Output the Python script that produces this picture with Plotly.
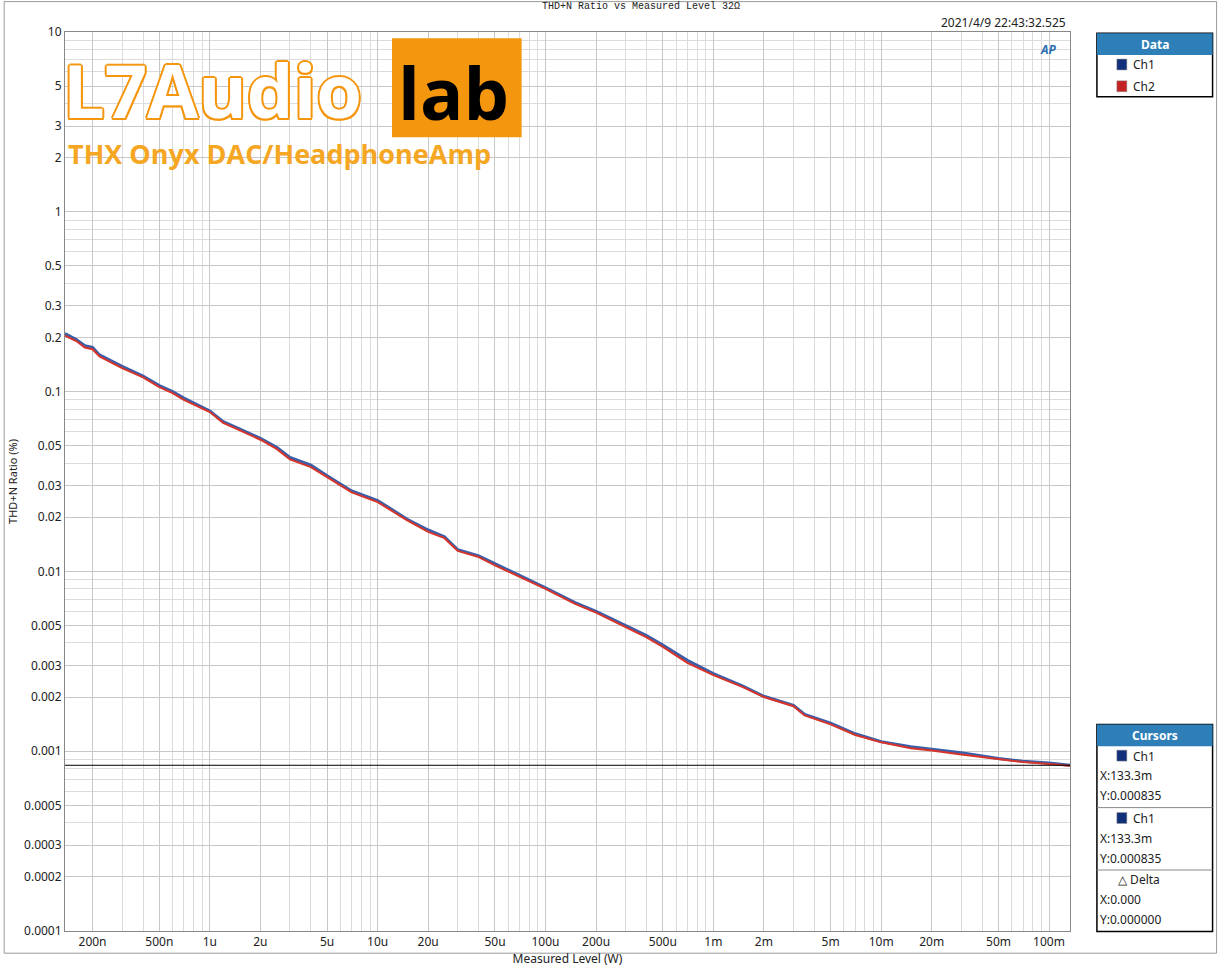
import plotly.graph_objects as go

level_w = [137e-9,160e-9,180e-9,200e-9,220e-9,300e-9,400e-9,500e-9,600e-9,700e-9,1e-6,1.2e-6,1.5e-6,2e-6,2.5e-6,3e-6,4e-6,5e-6,7e-6,10e-6,15e-6,20e-6,25e-6,30e-6,40e-6,50e-6,70e-6,100e-6,150e-6,200e-6,300e-6,400e-6,500e-6,700e-6,1e-3,1.5e-3,2e-3,3e-3,3.5e-3,5e-3,7e-3,10e-3,15e-3,20e-3,30e-3,50e-3,70e-3,100e-3,133.3e-3]
ch1 = [0.210,0.195,0.180,0.176,0.160,0.138,0.122,0.108,0.100,0.092,0.078,0.068,0.062,0.055,0.049,0.043,0.039,0.034,0.028,0.0248,0.0195,0.0170,0.0156,0.0132,0.0122,0.0110,0.0095,0.0081,0.0067,0.0060,0.0050,0.0044,0.0039,0.0032,0.0027,0.0023,0.00202,0.00180,0.00160,0.00143,0.00125,0.00113,0.00106,0.00103,0.00098,0.00091,0.00088,0.00086,0.000835]
ch2 = [0.205,0.191,0.176,0.172,0.157,0.135,0.120,0.106,0.098,0.090,0.077,0.067,0.061,0.054,0.048,0.042,0.038,0.0335,0.0275,0.0243,0.0192,0.0166,0.0153,0.0130,0.0120,0.0108,0.0093,0.0080,0.0066,0.0059,0.0049,0.0043,0.0038,0.0031,0.00265,0.00227,0.00200,0.00178,0.00158,0.00141,0.00123,0.00112,0.00104,0.00101,0.00096,0.00090,0.00087,0.00085,0.000830]
cursor_y = 0.000835
xtick_vals = [200e-9,500e-9,1e-6,2e-6,5e-6,10e-6,20e-6,50e-6,100e-6,200e-6,500e-6,1e-3,2e-3,5e-3,10e-3,20e-3,50e-3,100e-3]
xtick_text = ["200n","500n","1u","2u","5u","10u","20u","50u","100u","200u","500u","1m","2m","5m","10m","20m","50m","100m"]
ytick_vals = [10,5,3,2,1,0.5,0.3,0.2,0.1,0.05,0.03,0.02,0.01,0.005,0.003,0.002,0.001,0.0005,0.0003,0.0002,0.0001]
ytick_text = ["10","5","3","2","1","0.5","0.3","0.2","0.1","0.05","0.03","0.02","0.01","0.005","0.003","0.002","0.001","0.0005","0.0003","0.0002","0.0001"]

L, R, T, B, W, H = 62, 1070, 32, 949, 1218, 973
def px(x): return (x - L) / (R - L)
def py(y): return (B - y) / (B - T)
def ry(y): return y * 1.01  # compensate rendered vertical scale

fig = go.Figure()
fig.add_trace(go.Scatter(x=level_w, y=ch1, mode="lines", line=dict(color="#3a5ea8", width=3), name="Ch1"))
fig.add_trace(go.Scatter(x=level_w, y=ch2, mode="lines", line=dict(color="#d8352a", width=2), name="Ch2"))

grid = "#dcdcdc"
fig.update_xaxes(type="log", range=[-6.863, -0.875], tickvals=xtick_vals, ticktext=xtick_text,
                 showgrid=True, gridcolor="#c8c8c8", minor=dict(dtick="D1", showgrid=True, gridcolor=grid),
                 showline=True, linecolor="#888", mirror=True, ticks="", zeroline=False,
                 title=dict(text="Measured Level (W)", standoff=2, font=dict(size=12)), tickfont=dict(size=12))
fig.update_yaxes(type="log", range=[-4, 1], tickvals=ytick_vals, ticktext=ytick_text,
                 showgrid=True, gridcolor="#c8c8c8", minor=dict(dtick="D1", showgrid=True, gridcolor=grid),
                 showline=True, linecolor="#888", mirror=True, ticks="", zeroline=False,
                 title=dict(text="THD+N Ratio (%)", standoff=4, font=dict(size=11)), tickfont=dict(size=12))

shapes = [dict(type="line", xref="paper", x0=0, x1=1, yref="y", y0=cursor_y, y1=cursor_y, line=dict(color="black", width=1))]
ann = []
def box(x0, y0, x1, y1, **kw):
    shapes.append(dict(type="rect", xref="paper", yref="paper", x0=px(x0), x1=px(x1), y0=py(ry(y0)), y1=py(ry(y1)), **kw))
def text(x, y, s, size=12, color="#222", xanchor="left", **kw):
    ann.append(dict(xref="paper", yref="paper", x=px(x), y=py(ry(y)), text=s, showarrow=False,
                    xanchor=xanchor, yanchor="middle", font=dict(size=size, color=color, **kw)))

box(1, 1, W - 1, 962, line=dict(color="#999", width=1))
box(1097, 33, 1213, 97, line=dict(color="black", width=1.5), fillcolor="white")
box(1097, 33, 1213, 55, line=dict(width=0), fillcolor="#2e7fb8")
text(1155, 44, "<b>Data</b>", color="white", xanchor="center")
box(1117, 59, 1127, 70, line=dict(color="#888", width=0.5), fillcolor="#12307a")
text(1131, 65, "Ch1")
box(1117, 81, 1127, 92, line=dict(color="#888", width=0.5), fillcolor="#c42222")
text(1131, 87, "Ch2")
box(1097, 731, 1213, 940, line=dict(color="black", width=1.5), fillcolor="white")
box(1097, 731, 1213, 753, line=dict(width=0), fillcolor="#2e7fb8")
text(1155, 742, "<b>Cursors</b>", color="white", xanchor="center")
for base in (757, 820):
    box(1117, base, 1127, base + 11, line=dict(color="#888", width=0.5), fillcolor="#12307a")
    text(1131, base + 6, "Ch1")
    text(1098, base + 26, "X:133.3m")
    text(1098, base + 46, "Y:0.000835")
for yy in (815, 878):
    shapes.append(dict(type="line", xref="paper", yref="paper", x0=px(1097), x1=px(1213), y0=py(ry(yy)), y1=py(ry(yy)), line=dict(color="#888", width=1)))
text(1116, 888, "△ Delta")
text(1098, 908, "X:0.000")
text(1098, 928, "Y:0.000000")

text(640, 6, "THD+N Ratio vs Measured Level 32Ω", size=10, color="#222", xanchor="center", family="Liberation Mono")
text(1068, 22, "2021/4/9 22:43:32.525", size=12, xanchor="right")
text(1048, 49, "<i><b>AP</b></i>", size=12, color="#2e6fb0", xanchor="center")

box(390, 38, 520, 138, line=dict(width=0), fillcolor="#f5960f")
text(452, 92, "<b>lab</b>", size=72, color="black", xanchor="center", family="Open Sans")
sh = ",".join(f"{a}px {b}px 0 #f5960f" for a, b in [(2,0),(-2,0),(0,2),(0,-2),(1.5,1.5),(-1.5,-1.5),(1.5,-1.5),(-1.5,1.5)])
ann.append(dict(xref="paper", yref="paper", x=px(58), y=py(ry(90)), text="<b>L7Audio</b>", showarrow=False, xanchor="left",
                yanchor="middle", font=dict(size=74, color="white", family="Open Sans", shadow=sh)))
text(63, 154, "<b>THX Onyx DAC/HeadphoneAmp</b>", size=27, color="#f5a623", family="Open Sans")

fig.update_layout(width=W, height=H, margin=dict(l=L, r=W - R, t=T, b=H - B),
                  plot_bgcolor="white", paper_bgcolor="white", showlegend=False,
                  shapes=shapes, annotations=ann, font=dict(family="Noto Sans", color="#222"))
fig.write_html("out.html", config=dict(displayModeBar=False),
               post_script="document.body.style.margin='0';document.body.style.overflow='hidden';")
